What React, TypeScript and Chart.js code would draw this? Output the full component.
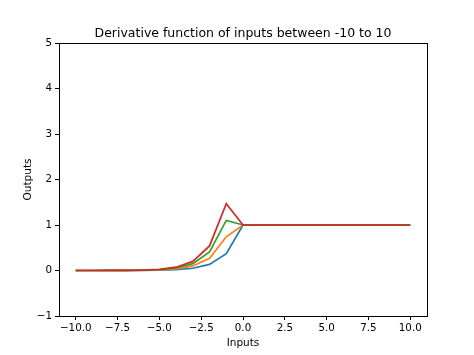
import React, { useEffect, useRef } from "react";
import { Chart, registerables } from "chart.js";

Chart.register(...registerables);

const xValues = [-10, -9, -8, -7, -6, -5, -4, -3, -2, -1, 0, 1, 2, 3, 4, 5, 6, 7, 8, 9, 10];
const seriesA = [0.00005, 0.00012, 0.00034, 0.0009, 0.0025, 0.0067, 0.018, 0.05, 0.135, 0.37, 1, 1, 1, 1, 1, 1, 1, 1, 1, 1, 1];
const seriesB = [0.0001, 0.00025, 0.00067, 0.0018, 0.005, 0.013, 0.037, 0.1, 0.27, 0.74, 1, 1, 1, 1, 1, 1, 1, 1, 1, 1, 1];
const seriesC = [0.00014, 0.00037, 0.001, 0.0027, 0.0074, 0.02, 0.055, 0.15, 0.41, 1.1, 1, 1, 1, 1, 1, 1, 1, 1, 1, 1, 1];
const seriesD = [0.00018, 0.0005, 0.0013, 0.0036, 0.0099, 0.027, 0.073, 0.2, 0.54, 1.47, 1, 1, 1, 1, 1, 1, 1, 1, 1, 1, 1];
const xTicks = [-10, -7.5, -5, -2.5, 0, 2.5, 5, 7.5, 10];
const yTicks = [-1, 0, 1, 2, 3, 4, 5];
const colors = ["#1f77b4", "#ff7f0e", "#2ca02c", "#d62728"];
const titleText = "Derivative function of inputs between -10 to 10";
const xLabel = "Inputs";
const yLabel = "Outputs";

const FONT = "'DejaVu Sans', sans-serif";

const fmt = (v: number, dec: number) => {
  const s = Math.abs(v).toFixed(dec);
  return v < 0 ? "\u2212" + s : s;
};

export default function App() {
  const ref = useRef<HTMLCanvasElement | null>(null);
  useEffect(() => {
    if (!ref.current) return;
    const all = [seriesA, seriesB, seriesC, seriesD];
    const decor = {
      id: "decor",
      afterDraw(chart: any) {
        const { ctx, chartArea } = chart;
        ctx.save();
        ctx.strokeStyle = "#000";
        ctx.lineWidth = 1;
        ctx.strokeRect(
          Math.round(chartArea.left) + 0.5,
          Math.round(chartArea.top) + 0.5,
          Math.round(chartArea.right - chartArea.left),
          Math.round(chartArea.bottom - chartArea.top)
        );
        ctx.fillStyle = "#000";
        ctx.textAlign = "center";
        ctx.textBaseline = "alphabetic";
        ctx.font = `12.5px ${FONT}`;
        ctx.fillText(titleText, (chartArea.left + chartArea.right) / 2, 37);
        ctx.font = `10.5px ${FONT}`;
        ctx.fillText(xLabel, (chartArea.left + chartArea.right) / 2, 346);
        ctx.translate(31, (chartArea.top + chartArea.bottom) / 2);
        ctx.rotate(-Math.PI / 2);
        ctx.fillText(yLabel, 0, 0);
        ctx.restore();
      },
    };
    const chart = new Chart(ref.current, {
      type: "scatter",
      data: {
        datasets: all.map((s, i) => ({
          data: xValues.map((x, j) => ({ x, y: s[j] })),
          borderColor: colors[i],
          backgroundColor: colors[i],
          showLine: true,
          borderWidth: 1.7,
          pointRadius: 0,
          tension: 0,
          order: all.length - 1 - i,
        })),
      },
      options: {
        animation: false,
        responsive: false,
        layout: { padding: { left: 0, top: 43, right: 47, bottom: 0 } },
        plugins: { legend: { display: false }, tooltip: { enabled: false }, title: { display: false } },
        scales: {
          x: {
            type: "linear",
            min: -11,
            max: 11,
            afterBuildTicks: (scale: any) => {
              scale.ticks = xTicks.map((v) => ({ value: v }));
            },
            afterFit: (scale: any) => {
              scale.height = 39;
            },
            grid: { drawOnChartArea: false, drawTicks: true, tickLength: 4, tickColor: "#000" },
            border: { display: false },
            ticks: {
              color: "#000",
              font: { family: FONT, size: 10.3 },
              padding: 2,
              maxRotation: 0,
              autoSkip: false,
              callback: (v: any) => fmt(Number(v), 1),
            },
          },
          y: {
            type: "linear",
            min: -1,
            max: 5,
            afterBuildTicks: (scale: any) => {
              scale.ticks = yTicks.map((v) => ({ value: v }));
            },
            afterFit: (scale: any) => {
              scale.width = 59;
            },
            grid: { drawOnChartArea: false, drawTicks: true, tickLength: 4, tickColor: "#000" },
            border: { display: false },
            ticks: {
              color: "#000",
              font: { family: FONT, size: 10.3 },
              padding: 3,
              autoSkip: false,
              callback: (v: any) => fmt(Number(v), 0),
            },
          },
        },
      },
      plugins: [decor],
    });
    return () => chart.destroy();
  }, []);
  return (
    <div style={{ position: "absolute", left: 0, top: 0, width: 474, height: 355, background: "#fff" }}>
      <canvas ref={ref} width={474} height={355} />
    </div>
  );
}
